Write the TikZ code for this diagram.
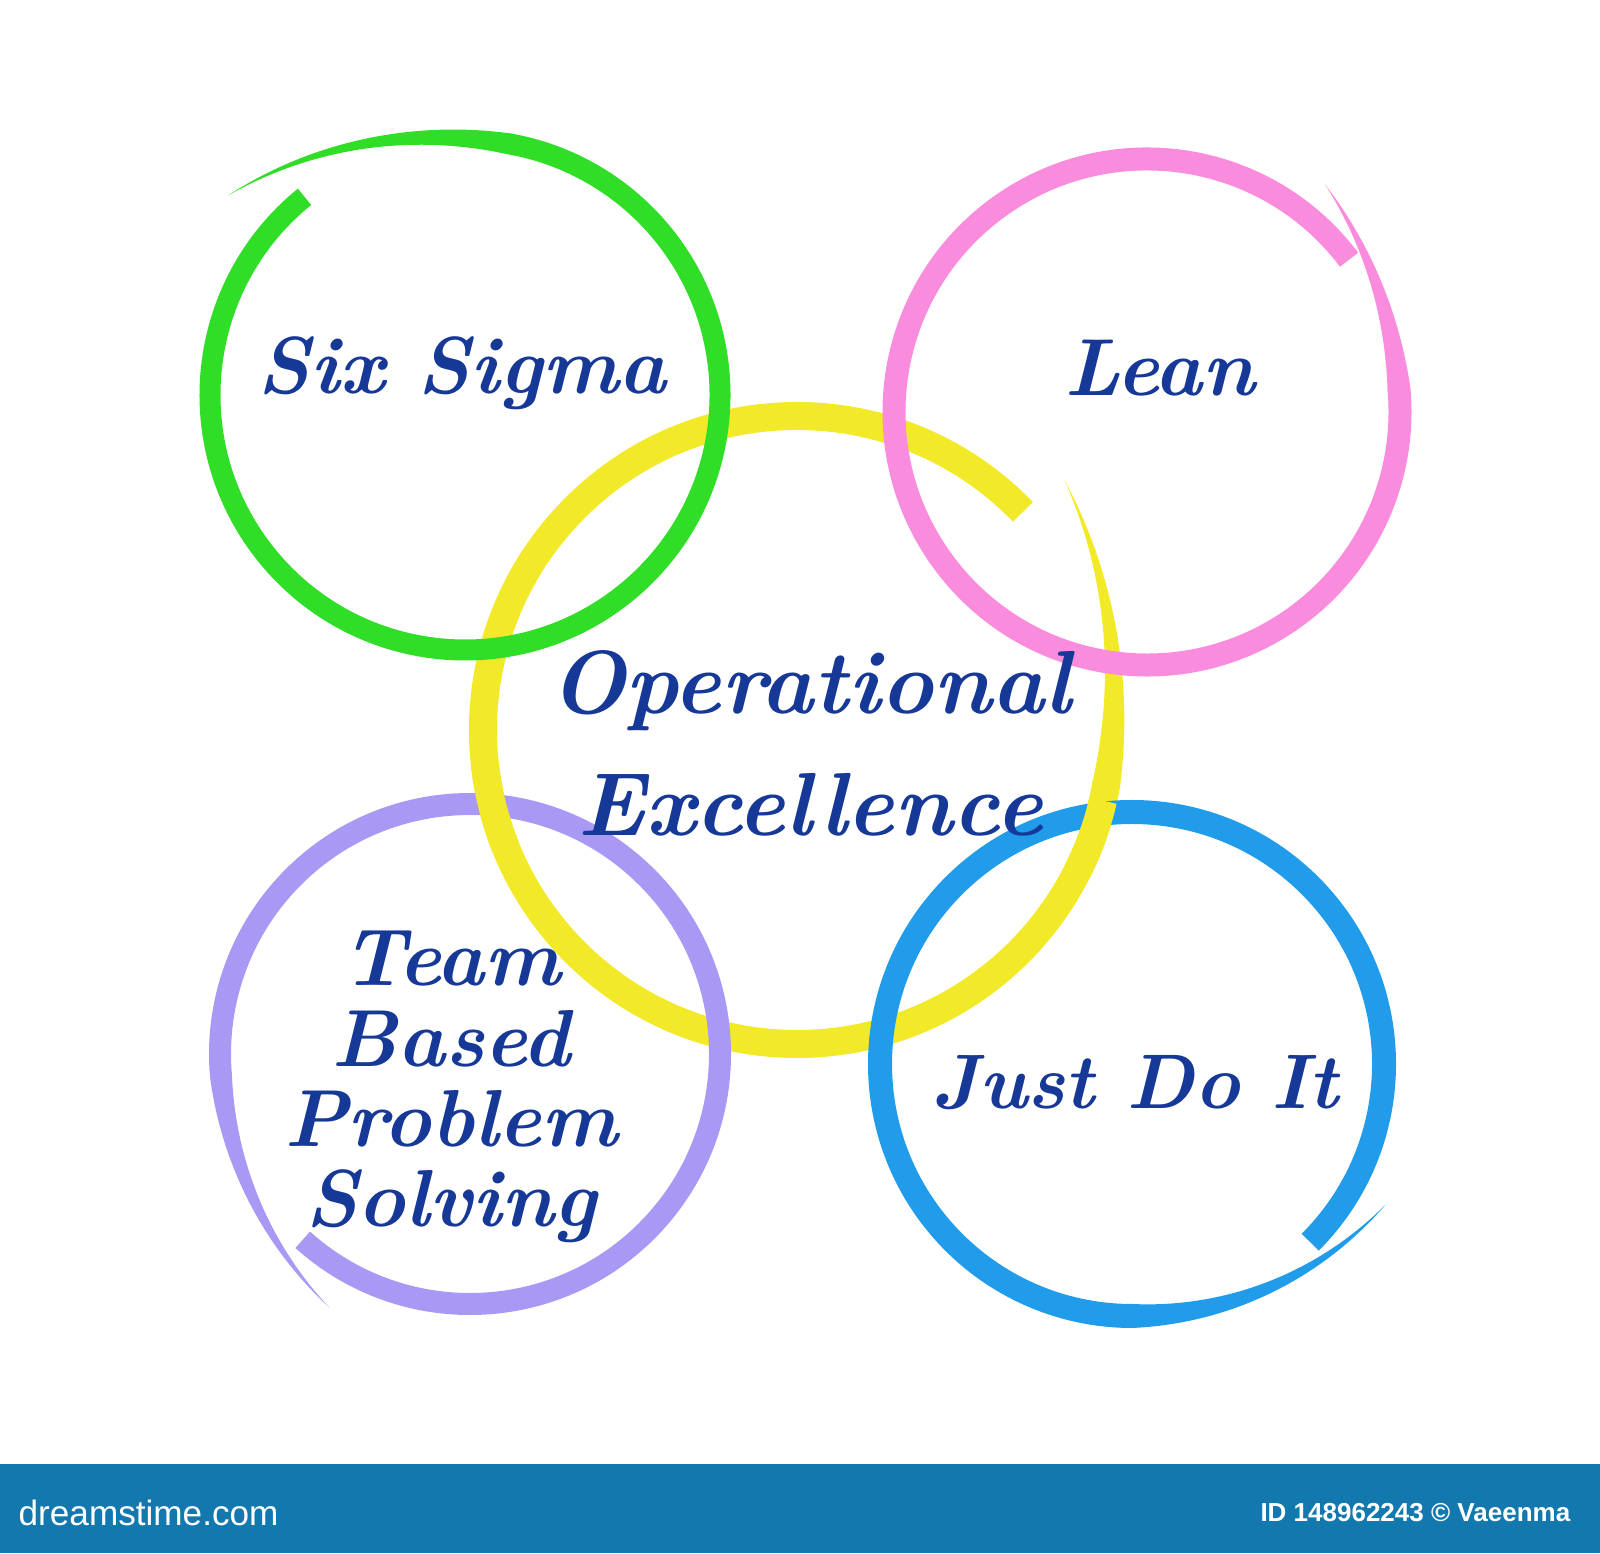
\documentclass[tikz,border=0pt]{standalone}
\usepackage{fontspec}
\newfontfamily\footfont{Liberation Sans}
\usetikzlibrary{calc}

\definecolor{ringgreen}{RGB}{48,222,40}
\definecolor{ringpink}{RGB}{250,140,222}
\definecolor{ringyellow}{RGB}{242,234,40}
\definecolor{ringpurple}{RGB}{170,152,245}
\definecolor{ringblue}{RGB}{32,156,235}
\definecolor{textblue}{RGB}{22,56,150}
\definecolor{footblue}{RGB}{18,120,174}

\tikzset{
  ringtext/.style={text=textblue, align=center, font=\bfseries\itshape\fontsize{23}{23}\selectfont},
  foottext/.style={text=white, inner sep=0pt, font=\footfont\fontsize{10}{12}\selectfont},
}

% tapering brush tail: colour, centre, radius, from, to, outward growth, width
\newcommand{\ringtail}[7]{%
  \begin{scope}[shift={(#2)}]
    \fill[#1] plot[domain=0:1, samples=50, variable=\t] ({#4+(#5-#4)*\t}:{#3+#6*\t*\t+#7/2*(1-\t)})
      -- plot[domain=1:0, samples=50, variable=\t] ({#4+(#5-#4)*\t}:{#3+#6*\t*\t-#7/2*(1-\t)}) -- cycle;
  \end{scope}
}

\begin{document}
\begin{tikzpicture}
  \useasboundingbox (0,0) rectangle (16,15.53);
  \fill[white] (0,0) rectangle (16,15.53);

  \coordinate (green) at (4.65,11.58);
  \coordinate (pink) at (11.47,11.41);
  \coordinate (yellow) at (7.97,8.23);
  \coordinate (purple) at (4.70,4.99);
  \coordinate (blue) at (11.32,4.89);

  % centre ring first, the others cross over it
  \draw[ringyellow, line width=0.28cm] ($(yellow)+(44:3.14)$) arc[start angle=44, end angle=350.3, radius=3.14];
  \ringtail{ringyellow}{yellow}{3.14}{350}{403}{0.52}{0.28}

  \draw[ringgreen, line width=0.21cm] ($(green)+(129:2.55)$) arc[start angle=129, end angle=440.3, radius=2.55];
  \ringtail{ringgreen}{green}{2.55}{440}{500}{0.55}{0.21}

  \draw[ringpink, line width=0.23cm] ($(pink)+(37:2.53)$) arc[start angle=37, end angle=365.3, radius=2.53];
  \ringtail{ringpink}{pink}{2.53}{365}{412}{0.36}{0.23}

  \draw[ringpurple, line width=0.22cm] ($(purple)+(228:2.50)$) arc[start angle=228, end angle=545.3, radius=2.50];
  \ringtail{ringpurple}{purple}{2.50}{545}{601}{0.40}{0.22}

  \draw[ringblue, line width=0.24cm] ($(blue)+(315:2.52)$) arc[start angle=315, end angle=630.3, radius=2.52];
  \ringtail{ringblue}{blue}{2.52}{630}{691}{0.38}{0.24}

  % yellow lies on top at two crossings
  \draw[ringyellow, line width=0.28cm] ($(yellow)+(186:3.14)$) arc[start angle=186, end angle=202, radius=3.14];
  \draw[ringyellow, line width=0.28cm] ($(yellow)+(333:3.14)$) arc[start angle=333, end angle=347, radius=3.14];

  \node[ringtext] (sixsigma) at (4.62,11.80) {Six Sigma};
  \node[ringtext] (lean) at (11.60,11.85) {Lean};
  \node[ringtext, font=\bfseries\itshape\fontsize{25.5}{34.7}\selectfont] (opex) at (8.10,8.10) {Operational\\Excellence};
  \node[ringtext, font=\bfseries\itshape\fontsize{23}{22.8}\selectfont] (teamprob) at (4.51,4.66) {Team\\Based\\Problem\\Solving};
  \node[ringtext, font=\bfseries\itshape\fontsize{22}{23}\selectfont] (justdoit) at (11.35,4.70) {Just Do It};

  % footer strip
  \fill[footblue] (0,0) rectangle (16,0.89);
  \node[foottext, anchor=west] (site) at (0.18,0.40) {dreamstime.com};
  \node[foottext, anchor=east, font=\footfont\bfseries\fontsize{7.4}{9}\selectfont] (credit) at (15.71,0.40) {ID 148962243 © Vaeenma};
\end{tikzpicture}
\end{document}
